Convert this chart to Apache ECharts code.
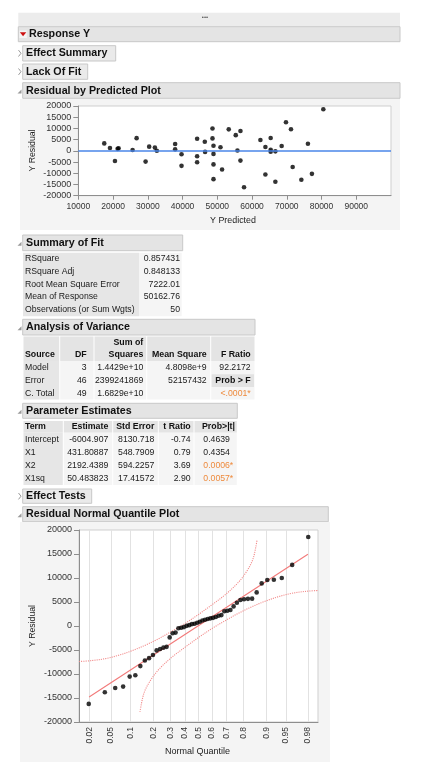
<!DOCTYPE html>
<html><head><meta charset="utf-8">
<script src="https://cdn.jsdelivr.net/npm/echarts@6/dist/echarts.min.js"></script>
<style>html,body{margin:0;padding:0;background:#fff;}#c{width:433px;height:762px;}</style>
</head><body><div id="c"></div>
<script>
// ---------------- DATA ----------------
const predicted = [17470,19110,20550,21320,21600,25630,26780,29370,30400,32040,32610,37870,37870,39710,39710,44200,44200,44200,46410,46490,48620,48620,48910,48910,48910,48910,50920,51380,53300,55320,55800,56670,56670,57700,62410,63850,63850,65370,65370,65370,66720,66720,68530,69770,71210,71700,74200,76090,77240,80520];
const residuals = [3320,1300,-4510,900,1160,400,5660,-4800,1870,1450,30,3070,680,-1520,-6700,5410,-2380,-5080,4080,-470,9990,5560,2270,-1370,-6050,-12630,1590,-8350,9590,7000,180,8870,-4340,-16230,4830,1700,-10540,5700,460,-370,-230,-13810,2130,12730,9630,-7180,-12920,3170,-10250,18540];
const quantileTickLabels = ['0.02','0.05','0.1','0.2','0.3','0.4','0.5','0.6','0.7','0.8','0.9','0.95','0.98'];
const refLine = [[-2.055,-14800],[2.055,14950]];
const upperBand = [[-2.245,-7400],[-2.0,-7200],[-1.75,-6800],[-1.5,-6100],[-1.25,-5150],[-1.0,-4000],[-0.75,-2650],[-0.5,-1100],[-0.25,550],[0,2400],[0.25,4400],[0.5,6500],[0.75,9100],[0.9,11300],[1.0,13300],[1.05,15000],[1.1,17900]];
const lowerBand = [[-1.1,-17900],[-1.05,-15000],[-1.0,-13300],[-0.9,-11300],[-0.75,-9100],[-0.5,-6500],[-0.25,-4400],[0,-2400],[0.25,-550],[0.5,1100],[0.75,2650],[1.0,4000],[1.25,5150],[1.5,6100],[1.75,6800],[2.0,7200],[2.245,7400]];

const summaryLabels = ['RSquare','RSquare Adj','Root Mean Square Error','Mean of Response','Observations (or Sum Wgts)'];
const summaryValues = ['0.857431','0.848133','7222.01','50162.76','50'];

const anovaSource = ['Model','Error','C. Total'];
const anovaDF = ['3','46','49'];
const anovaSS = ['1.4429e+10','2399241869','1.6829e+10'];
const anovaMS = ['4.8098e+9','52157432',''];
const anovaF = ['92.2172','Prob > F','<.0001*'];

const paramTerms = ['Intercept','X1','X2','X1sq'];
const paramEstimate = ['-6004.907','431.80887','2192.4389','50.483823'];
const paramStdErr = ['8130.718','548.7909','594.2257','17.41572'];
const paramT = ['-0.74','0.79','3.69','2.90'];
const paramProb = ['0.4639','0.4354','0.0006*','0.0057*'];

// ---------------- helpers ----------------
function probit(p){
  const a=[-3.969683028665376e+01,2.209460984245205e+02,-2.759285104469687e+02,1.383577518672690e+02,-3.066479806614716e+01,2.506628277459239e+00];
  const b=[-5.447609879822406e+01,1.615858368580409e+02,-1.556989798598866e+02,6.680131188771972e+01,-1.328068155288572e+01];
  const c=[-7.784894002430293e-03,-3.223964580411365e-01,-2.400758277161838e+00,-2.549732539343734e+00,4.374664141464968e+00,2.938163982698783e+00];
  const d=[7.784695709041462e-03,3.224671290700398e-01,2.445134137142996e+00,3.754408661907416e+00];
  const pl=0.02425, ph=1-pl; let q,r;
  if(p<pl){q=Math.sqrt(-2*Math.log(p));return (((((c[0]*q+c[1])*q+c[2])*q+c[3])*q+c[4])*q+c[5])/((((d[0]*q+d[1])*q+d[2])*q+d[3])*q+1);}
  if(p<=ph){q=p-0.5;r=q*q;return (((((a[0]*r+a[1])*r+a[2])*r+a[3])*r+a[4])*r+a[5])*q/(((((b[0]*r+b[1])*r+b[2])*r+b[3])*r+b[4])*r+1);}
  q=Math.sqrt(-2*Math.log(1-p));return -(((((c[0]*q+c[1])*q+c[2])*q+c[3])*q+c[4])*q+c[5])/((((d[0]*q+d[1])*q+d[2])*q+d[3])*q+1);
}
const FF = '"Liberation Sans", Arial, sans-serif';
const tickZ = quantileTickLabels.map(s => probit(parseFloat(s)));
const sortedRes = residuals.slice().sort((a,b)=>a-b);
const nObs = sortedRes.length;
const quantileData = sortedRes.map((v,i)=>[probit((i+1)/(nObs+1)), v]);
const plainNum = v => String(Math.round(v));

const G = [];
function rect(x,y,w,h,fill,stroke){ G.push({type:'rect', z:-10, silent:true, shape:{x:x,y:y,width:w,height:h}, style:{fill:fill, stroke:stroke||null, lineWidth:stroke?1:0}}); }
function txt(x,y,s,o){ G.push({type:'text', z:10, silent:true, x:x, y:y, style:Object.assign({text:s, font:'8.7px '+FF, fill:'#1a1a1a', textAlign:'left', textVerticalAlign:'middle'}, o||{})}); }
function headTxt(x,y,s){ txt(x,y,s,{font:'bold 10.7px '+FF, fill:'#111'}); }
function openTri(y){ G.push({type:'polygon', z:10, silent:true, shape:{points:[[17.5,y+3],[21.5,y+3],[21.5,y-1]]}, style:{fill:'#9a9a9a'}}); }
function chevron(y){ G.push({type:'polyline', z:10, silent:true, shape:{points:[[18.5,y-3.2],[21,y],[18.5,y+3.2]]}, style:{stroke:'#9a9a9a', lineWidth:1, fill:null}}); }

// top bars
rect(18.3,12.7,381.7,13.3,'#ececec');
txt(205,17,'•••',{font:'6px '+FF, fill:'#555', textAlign:'center'});
rect(18.3,26.7,381.7,15,'#e4e4e4','#c8c8c8');
G.push({type:'rect', z:9, silent:true, shape:{x:19.3,y:30.5,width:7.5,height:7.5}, style:{fill:'#f4f4f4'}});
G.push({type:'polygon', z:10, silent:true, shape:{points:[[19.8,32.2],[26.3,32.2],[23.05,36.3]]}, style:{fill:'#cc1111'}});
headTxt(29,34.4,'Response Y');
rect(22.7,45.7,93,15.3,'#eaeaea','#c8c8c8'); chevron(53.3); headTxt(26,53.5,'Effect Summary');
rect(22.7,64,65,15.3,'#eaeaea','#c8c8c8'); chevron(71.7); headTxt(26,71.9,'Lack Of Fit');
rect(22.7,82.7,377.3,15.6,'#e4e4e4','#c8c8c8'); openTri(90.5); headTxt(26,90.7,'Residual by Predicted Plot');
rect(20,99,380,131,'#f4f4f4');
txt(33,150.5,'Y Residual',{font:'8.7px '+FF, fill:'#222', textAlign:'center'});
G[G.length-1].rotation = Math.PI/2;
txt(233,220.7,'Y Predicted',{font:'8.9px '+FF, fill:'#222', textAlign:'center'});

// Summary of Fit
rect(22.7,235,160,15.7,'#e4e4e4','#c8c8c8'); openTri(242.8); headTxt(26,243,'Summary of Fit');
rect(23,252.7,116,63.5,'#e6e6e6'); rect(139,252.7,42.7,63.5,'#f5f5f5');
summaryLabels.forEach((s,i)=>{ const y=259+i*12.7; txt(25,y,s); txt(180,y,summaryValues[i],{textAlign:'right'}); });

// Analysis of Variance
rect(22.7,319.3,232.3,15.7,'#e4e4e4','#c8c8c8'); openTri(327.2); headTxt(26,327.4,'Analysis of Variance');
const aCols=[23,59.7,94,146.7,210.7,255];
for(let k=0;k<5;k++){ rect(aCols[k]+0.5,336.5,aCols[k+1]-aCols[k]-1,24.5,'#e4e4e4'); rect(aCols[k]+0.5,361,aCols[k+1]-aCols[k]-1,38.5,k===0?'#e6e6e6':'#f5f5f5'); }
rect(211.7,374.3,42.3,12.7,'#e2e2e2');
const HB = {font:'bold 8.8px '+FF, fill:'#111'};
txt(143.3,342.7,'Sum of',Object.assign({textAlign:'right'},HB));
txt(25,355,'Source',HB); txt(86.7,355,'DF',Object.assign({textAlign:'right'},HB));
txt(143.3,355,'Squares',Object.assign({textAlign:'right'},HB)); txt(206.7,355,'Mean Square',Object.assign({textAlign:'right'},HB));
txt(250.7,355,'F Ratio',Object.assign({textAlign:'right'},HB));
anovaSource.forEach((s,i)=>{ const y=367.7+i*12.8; txt(25,y,s); txt(86.7,y,anovaDF[i],{textAlign:'right'}); txt(143.3,y,anovaSS[i],{textAlign:'right'}); if(anovaMS[i]) txt(206.7,y,anovaMS[i],{textAlign:'right'});
  const f = anovaF[i];
  if(f==='Prob > F') txt(250.7,y,f,Object.assign({textAlign:'right'},HB));
  else if(f.indexOf('*')>=0) txt(250.7,y,f,{textAlign:'right', fill:'#ee8a3c'});
  else txt(250.7,y,f,{textAlign:'right'}); });

// Parameter Estimates
rect(22.7,403.3,214.6,15,'#e4e4e4','#c8c8c8'); openTri(410.8); headTxt(26,411,'Parameter Estimates');
const pCols=[23,63.3,112.7,158.3,194,237.3];
for(let k=0;k<5;k++){ rect(pCols[k]+0.5,421,pCols[k+1]-pCols[k]-1,11.8,'#e4e4e4'); rect(pCols[k]+0.5,432.8,pCols[k+1]-pCols[k]-1,52.2,k===0?'#e6e6e6':'#f5f5f5'); }
txt(25,426.9,'Term',HB); txt(108.3,426.9,'Estimate',Object.assign({textAlign:'right'},HB));
txt(154.3,426.9,'Std Error',Object.assign({textAlign:'right'},HB)); txt(190.7,426.9,'t Ratio',Object.assign({textAlign:'right'},HB));
txt(235,426.9,'Prob>|t|',Object.assign({textAlign:'right'},HB));
paramTerms.forEach((s,i)=>{ const y=440+i*12.8; txt(25,y,s); txt(108.3,y,paramEstimate[i],{textAlign:'right'}); txt(154.3,y,paramStdErr[i],{textAlign:'right'}); txt(190.7,y,paramT[i],{textAlign:'right'});
  const p=paramProb[i]; txt(203.3,y,p, p.indexOf('*')>=0?{fill:'#ee8a3c'}:{}); });

rect(22.7,489,69,14.3,'#eaeaea','#c8c8c8'); chevron(496.2); headTxt(26,496.4,'Effect Tests');
rect(22.7,506.7,305.6,15,'#e4e4e4','#c8c8c8'); openTri(514.2); headTxt(26,514.4,'Residual Normal Quantile Plot');
rect(20,522,310,240,'#f4f4f4');
txt(33,626,'Y Residual',{font:'8.7px '+FF, fill:'#222', textAlign:'center'});
G[G.length-1].rotation = Math.PI/2;
txt(197.5,751.7,'Normal Quantile',{font:'9px '+FF, fill:'#222', textAlign:'center'});

// ---------------- chart ----------------
const chart = echarts.init(document.getElementById('c'), null, {renderer:'canvas'});
const axisCol = '#8e8e8e';
const lab = {fontSize:8.5, color:'#333', fontFamily:FF};
const option = {
  backgroundColor:'#ffffff', animation:false,
  graphic:{elements:G},
  grid:[
    {left:78.3, top:106, width:312.7, height:89.7, show:true, backgroundColor:'#fff', borderColor:'#cfcfcf', borderWidth:1, containLabel:false, outerBoundsMode:'none'},
    {left:79, top:530, width:239, height:192, show:true, backgroundColor:'#fff', borderColor:'#cfcfcf', borderWidth:1, containLabel:false, outerBoundsMode:'none'}
  ],
  xAxis:[
    {gridIndex:0, type:'value', min:10000, max:100000, interval:10000,
     axisLine:{show:true, onZero:false, lineStyle:{color:axisCol}}, axisTick:{show:true, length:4, lineStyle:{color:axisCol}},
     axisLabel:Object.assign({margin:6, showMaxLabel:false, showMinLabel:true, formatter:plainNum}, lab), splitLine:{show:false}},
    {gridIndex:1, type:'value', min:-2.245, max:2.245,
     axisLine:{show:true, onZero:false, lineStyle:{color:axisCol}}, axisTick:{show:false, customValues:tickZ},
     axisLabel:Object.assign({customValues:tickZ, rotate:90, margin:5, formatter:function(v){ for(let i=0;i<tickZ.length;i++){ if(Math.abs(tickZ[i]-v)<1e-6) return quantileTickLabels[i]; } return ''; }}, lab),
     splitLine:{show:true, lineStyle:{color:'#e2e2e2', width:1}}}
  ],
  yAxis:[
    {gridIndex:0, type:'value', min:-20000, max:20000, interval:5000,
     axisLine:{show:true, onZero:false, lineStyle:{color:axisCol}}, axisTick:{show:true, length:5, lineStyle:{color:axisCol}},
     axisLabel:Object.assign({margin:7, formatter:plainNum}, lab, {fontSize:9}), splitLine:{show:false}},
    {gridIndex:1, type:'value', min:-20000, max:20000, interval:5000,
     axisLine:{show:true, onZero:false, lineStyle:{color:axisCol}}, axisTick:{show:true, length:5, lineStyle:{color:axisCol}},
     axisLabel:Object.assign({margin:7, formatter:plainNum}, lab, {fontSize:9}), splitLine:{show:false}}
  ],
  series:[
    {type:'scatter', xAxisIndex:0, yAxisIndex:0, z:4, symbolSize:4.6, itemStyle:{color:'#000'},
     data:predicted.map((p,i)=>[p,residuals[i]]),
     markLine:{silent:true, symbol:'none', label:{show:false}, lineStyle:{color:'#4a86e8', width:1.5, type:'solid'}, data:[{yAxis:0}]}},
    {type:'line', xAxisIndex:1, yAxisIndex:1, z:2, data:refLine, symbol:'none', lineStyle:{color:'#f27a7a', width:1.1}},
    {type:'line', xAxisIndex:1, yAxisIndex:1, z:2, data:upperBand, symbol:'none', smooth:0.35, lineStyle:{color:'#f28a8a', width:1.1, type:'dotted'}},
    {type:'line', xAxisIndex:1, yAxisIndex:1, z:2, data:lowerBand, symbol:'none', smooth:0.35, lineStyle:{color:'#f28a8a', width:1.1, type:'dotted'}},
    {type:'scatter', xAxisIndex:1, yAxisIndex:1, z:4, symbolSize:4.6, itemStyle:{color:'#000'}, data:quantileData}
  ]
};
chart.setOption(option);
</script></body></html>
